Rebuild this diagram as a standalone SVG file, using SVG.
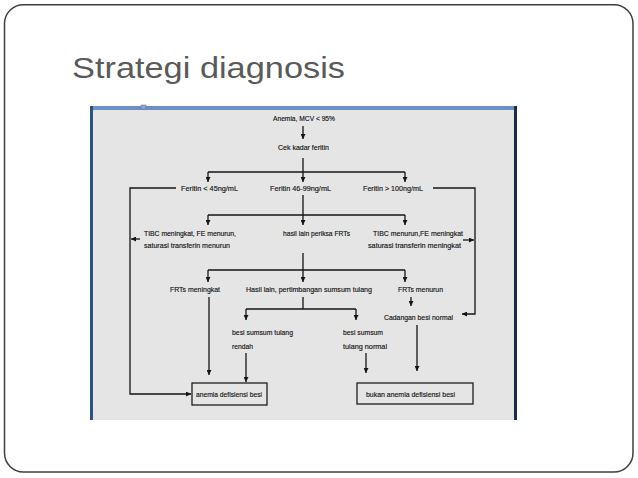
<svg xmlns="http://www.w3.org/2000/svg" width="638" height="478" viewBox="0 0 638 478">
<style>
.t{font-family:"Liberation Sans",Arial,sans-serif;font-size:7.6px;fill:#111111;stroke:#111111;stroke-width:0.15}
.c{fill:none;stroke:#151515;stroke-width:1.3}
.box{fill:none;stroke:#1e1e1e;stroke-width:1.3}
</style>
<defs>
<marker id="ah" viewBox="0 0 6 6" refX="6" refY="3" markerWidth="5" markerHeight="5" orient="auto" markerUnits="userSpaceOnUse">
<path d="M0,0 L6,3 L0,6 z" fill="#151515"/>
</marker>
</defs>
<rect width="638" height="478" fill="#ffffff"/>
<rect x="4.5" y="4.7" width="628.5" height="467.3" rx="19" ry="19" fill="none" stroke="#3f3f3f" stroke-width="1.5"/>
<text x="72" y="78" font-family="'Liberation Sans',Arial,sans-serif" font-size="29.5" fill="#5a5a5a" textLength="273" lengthAdjust="spacingAndGlyphs">Strategi diagnosis</text>

<g id="frame">
<rect x="90" y="106" width="427" height="314" fill="#e5e5e5"/>
<rect x="90" y="106" width="427" height="4" fill="#6b90c6"/>
<rect x="90" y="106" width="3" height="314" fill="#2f5083"/>
<rect x="514" y="106" width="3" height="314" fill="#1d2a48"/>
<rect x="141" y="105" width="5" height="4" fill="#8fa6c8" stroke="#5a6f90" stroke-width="0.5"/>
</g>

<g id="connectors">
<path class="c" d="M303,126 V139" marker-end="url(#ah)"/>
<path class="c" d="M303,158 V172 M208,172 H405"/>
<path class="c" d="M208,172 V182" marker-end="url(#ah)"/>
<path class="c" d="M303,172 V182" marker-end="url(#ah)"/>
<path class="c" d="M405,172 V182" marker-end="url(#ah)"/>
<path class="c" d="M176,188 H130 V394 H191" marker-end="url(#ah)"/>
<path class="c" d="M433,188 H475 V314 H462" marker-end="url(#ah)"/>
<path class="c" d="M303,195 V215 M208,215 H405"/>
<path class="c" d="M208,215 V225" marker-end="url(#ah)"/>
<path class="c" d="M303,215 V225" marker-end="url(#ah)"/>
<path class="c" d="M405,215 V225" marker-end="url(#ah)"/>
<path class="c" d="M140,239 H131" marker-end="url(#ah)"/>
<path class="c" d="M463,240 H474" marker-end="url(#ah)"/>
<path class="c" d="M303,253 V270 M208,270 H405"/>
<path class="c" d="M208,270 V282" marker-end="url(#ah)"/>
<path class="c" d="M303,270 V282" marker-end="url(#ah)"/>
<path class="c" d="M405,270 V282" marker-end="url(#ah)"/>
<path class="c" d="M209,297 V375" marker-end="url(#ah)"/>
<path class="c" d="M411,297 V306" marker-end="url(#ah)"/>
<path class="c" d="M303,297 V309 M246,309 H356"/>
<path class="c" d="M246,309 V320" marker-end="url(#ah)"/>
<path class="c" d="M356,309 V320" marker-end="url(#ah)"/>
<path class="c" d="M246,353 V382" marker-end="url(#ah)"/>
<path class="c" d="M366,353 V373" marker-end="url(#ah)"/>
<path class="c" d="M417,325 V371" marker-end="url(#ah)"/>
</g>

<g id="n-anemia"><text class="t" x="273" y="120.5" textLength="62" lengthAdjust="spacingAndGlyphs">Anemia, MCV &lt; 95%</text></g>
<g id="n-cek"><text class="t" x="278" y="149.5" textLength="51" lengthAdjust="spacingAndGlyphs">Cek kadar feritin</text></g>
<g id="n-fer-low"><text class="t" x="181" y="190.5" textLength="57" lengthAdjust="spacingAndGlyphs">Feritin &lt; 45ng/mL</text></g>
<g id="n-fer-mid"><text class="t" x="270" y="190.5" textLength="61" lengthAdjust="spacingAndGlyphs">Feritin 46-99ng/mL</text></g>
<g id="n-fer-high"><text class="t" x="363" y="190.5" textLength="60" lengthAdjust="spacingAndGlyphs">Feritin &gt; 100ng/mL</text></g>
<g id="n-tibc-up">
<text class="t" x="144" y="235.5" textLength="92" lengthAdjust="spacingAndGlyphs">TIBC meningkat, FE menurun,</text>
<text class="t" x="144" y="247.5" textLength="86" lengthAdjust="spacingAndGlyphs">saturasi transferin menurun</text>
</g>
<g id="n-hasil-frts"><text class="t" x="283" y="235.5" textLength="67" lengthAdjust="spacingAndGlyphs">hasil lain periksa FRTs</text></g>
<g id="n-tibc-down">
<text class="t" x="373" y="235.5" textLength="90" lengthAdjust="spacingAndGlyphs">TIBC menurun,FE meningkat</text>
<text class="t" x="368" y="247.5" textLength="93" lengthAdjust="spacingAndGlyphs">saturasi transferin meningkat</text>
</g>
<g id="n-frts-up"><text class="t" x="170" y="291.5" textLength="50" lengthAdjust="spacingAndGlyphs">FRTs meningkat</text></g>
<g id="n-hasil-sumsum"><text class="t" x="246" y="291.5" textLength="126" lengthAdjust="spacingAndGlyphs">Hasil lain, pertimbangan sumsum tulang</text></g>
<g id="n-frts-down"><text class="t" x="398" y="291.5" textLength="45" lengthAdjust="spacingAndGlyphs">FRTs menurun</text></g>
<g id="n-cadangan"><text class="t" x="384" y="319.5" textLength="69" lengthAdjust="spacingAndGlyphs">Cadangan besi normal</text></g>
<g id="n-besi-rendah">
<text class="t" x="232" y="334.5" textLength="61" lengthAdjust="spacingAndGlyphs">besi sumsum tulang</text>
<text class="t" x="232" y="348.5" textLength="21" lengthAdjust="spacingAndGlyphs">rendah</text>
</g>
<g id="n-besi-normal">
<text class="t" x="343" y="334.5" textLength="40" lengthAdjust="spacingAndGlyphs">besi sumsum</text>
<text class="t" x="343" y="348.5" textLength="44" lengthAdjust="spacingAndGlyphs">tulang normal</text>
</g>
<g id="n-adb">
<rect class="box" x="192" y="383" width="75" height="22"/>
<text class="t" x="196" y="396.5" textLength="66" lengthAdjust="spacingAndGlyphs">anemia defisiensi besi</text>
</g>
<g id="n-bukan">
<rect class="box" x="357" y="383" width="116" height="21"/>
<text class="t" x="366" y="396.5" textLength="89" lengthAdjust="spacingAndGlyphs">bukan anemia defisiensi besi</text>
</g>
</svg>
